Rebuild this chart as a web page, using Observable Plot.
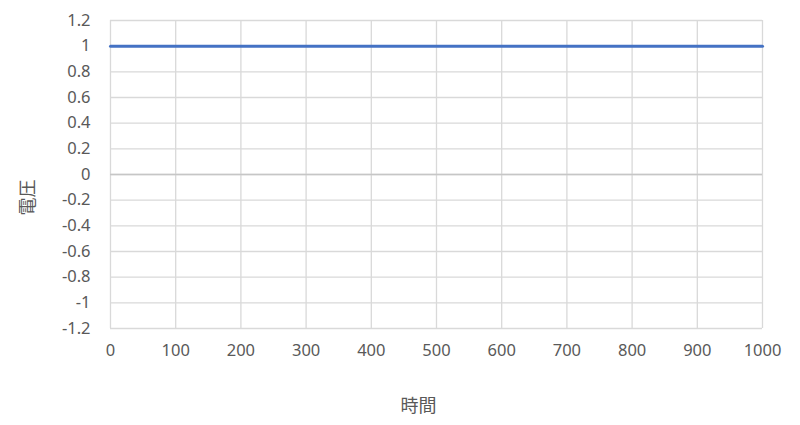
<!DOCTYPE html>
<html>
<head>
<meta charset="utf-8">
<script src="https://cdn.jsdelivr.net/npm/d3@7"></script>
<script src="https://cdn.jsdelivr.net/npm/@observablehq/plot@0.6"></script>
<style>
  html, body { margin: 0; padding: 0; background: #fff; }
  #chart svg { display: block; }
</style>
</head>
<body>
<div id="chart"></div>
<script>
const times = [0, 100, 200, 300, 400, 500, 600, 700, 800, 900, 1000];
const voltage = [1, 1, 1, 1, 1, 1, 1, 1, 1, 1, 1];
const xTicks = [0, 100, 200, 300, 400, 500, 600, 700, 800, 900, 1000];
const yTicks = [-1.2, -1, -0.8, -0.6, -0.4, -0.2, 0, 0.2, 0.4, 0.6, 0.8, 1, 1.2];
const xTitle = "時間";
const yTitle = "電圧";

const data = times.map((t, i) => ({t, v: voltage[i]}));
const gridColor = "#d9d9d9";
const textColor = "#595959";

const chart = Plot.plot({
  width: 800,
  height: 425,
  marginLeft: 110,
  marginRight: 38,
  marginTop: 20,
  marginBottom: 97,
  style: {fontFamily: "'Noto Sans', 'Noto Sans CJK JP', sans-serif", fontSize: "16.5px", color: textColor, background: "#fff"},
  x: {domain: [0, 1000]},
  y: {domain: [-1.2, 1.2]},
  marks: [
    Plot.gridX(xTicks, {stroke: gridColor, strokeOpacity: 1, strokeWidth: 1.3}),
    Plot.gridY(yTicks, {stroke: gridColor, strokeOpacity: 1, strokeWidth: 1.3}),
    Plot.ruleY([0], {stroke: "#c6c6c6", strokeWidth: 1.3}),
    Plot.axisX(xTicks, {tickSize: 0, tickPadding: 16, label: null, fontSize: 16.5, tickFormat: d => String(d), fill: textColor}),
    Plot.axisY(yTicks, {tickSize: 0, tickPadding: 20, label: null, fontSize: 16.5, tickFormat: d => String(Math.round(d * 10) / 10), fill: textColor}),
    Plot.line(data, {x: "t", y: "v", stroke: "#4472C4", strokeWidth: 3}),
    Plot.text([xTitle], {frameAnchor: "bottom", dx: -18, dy: 83, fontSize: 18, fill: textColor, fontFamily: "'Noto Sans CJK JP', sans-serif"}),
    Plot.text([yTitle], {frameAnchor: "left", dx: -82, dy: 41, rotate: -90, fontSize: 18, fill: textColor, fontFamily: "'Noto Sans CJK JP', sans-serif"})
  ]
});
document.getElementById("chart").appendChild(chart);
</script>
</body>
</html>
